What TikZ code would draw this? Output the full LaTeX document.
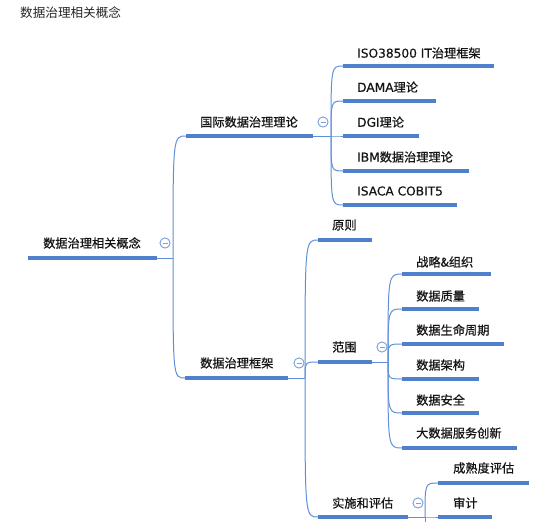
\documentclass[tikz,border=0pt]{standalone}
\usepackage{fontspec}
\setmainfont[FakeBold=0.6]{Noto Sans CJK SC}
\newfontfamily\plaincjk{Noto Sans CJK SC}
\newfontfamily\lat[FakeBold=0.4]{DejaVu Sans}
\definecolor{uline}{RGB}{78,128,206}
\definecolor{cline}{RGB}{96,144,218}
\definecolor{cring}{RGB}{120,160,220}
\definecolor{txt}{RGB}{20,20,20}
\begin{document}
\begin{tikzpicture}[x=1pt,y=-1pt,
  lbl/.style={anchor=west,inner sep=0pt,font=\fontsize{12.2}{14}\selectfont,text=txt},
  uln/.style={draw=uline,line width=3.2pt},
  conn/.style={draw=cline,line width=1pt},
  fold/.style={circle,draw=cring,line width=0.8pt,minimum size=10pt,inner sep=0pt,fill=white,
    path picture={\draw[cring,line width=0.8pt] ([xshift=-2.5pt]path picture bounding box.center) -- ([xshift=2.5pt]path picture bounding box.center);}}]
\useasboundingbox[fill=white] (0,0) rectangle (543,522);

% title
\node[lbl,font=\plaincjk\fontsize{12.6}{14}\selectfont,text=black!85] (title) at (20,13) {数据治理相关概念};

% ---------- root ----------
\node[lbl] (root) at (43,243) {数据治理相关概念};
\coordinate (rootS) at (28,258); \coordinate (rootE) at (157,258);
\coordinate (rootJ) at (173,258);
\node[fold] (rootF) at (165,243) {};

% ---------- level 1 ----------
\node[lbl] (intl) at (200,122) {国际数据治理理论};
\coordinate (intlS) at (186,136); \coordinate (intlE) at (313,136);
\coordinate (intlJ) at (331,136);
\node[fold] (intlF) at (323,122) {};

\node[lbl] (fw) at (200,363) {数据治理框架};
\coordinate (fwS) at (185,378); \coordinate (fwE) at (288,378);
\coordinate (fwJ) at (305,378);
\node[fold] (fwF) at (299,363) {};

% ---------- children of intl ----------
\node[lbl] (iso) at (357,53) {{\lat ISO38500 IT}治理框架};
\coordinate (isoS) at (343,66); \coordinate (isoE) at (494,66);
\node[lbl] (dama) at (357,87) {{\lat DAMA}理论};
\coordinate (damaS) at (343,101); \coordinate (damaE) at (436,101);
\node[lbl] (dgi) at (357,122) {{\lat DGI}理论};
\coordinate (dgiS) at (343,136); \coordinate (dgiE) at (419,136);
\node[lbl] (ibm) at (357,157) {{\lat IBM}数据治理理论};
\coordinate (ibmS) at (343,171); \coordinate (ibmE) at (469,171);
\node[lbl] (isaca) at (357,191) {{\lat ISACA COBIT5}};
\coordinate (isacaS) at (343,205); \coordinate (isacaE) at (457,205);

% ---------- children of fw ----------
\node[lbl] (yz) at (332,225) {原则};
\coordinate (yzS) at (318,240); \coordinate (yzE) at (372,240);
\node[lbl] (fwei) at (332,347) {范围};
\coordinate (fweiS) at (318,362); \coordinate (fweiE) at (372,362);
\coordinate (fweiJ) at (388,362);
\node[fold] (fweiF) at (382,347) {};
\node[lbl] (ss) at (332,503) {实施和评估};
\coordinate (ssS) at (318,517); \coordinate (ssE) at (408,517);
\coordinate (ssJ) at (425,517);
\node[fold] (ssF) at (418,503) {};
\coordinate (ssDown) at (425,522);

% ---------- children of fwei ----------
\node[lbl] (s1) at (416,262) {战略\&组织};
\coordinate (s1S) at (402,274); \coordinate (s1E) at (491,274);
\node[lbl] (s2) at (416,296) {数据质量};
\coordinate (s2S) at (402,309); \coordinate (s2E) at (479,309);
\node[lbl] (s3) at (416,330) {数据生命周期};
\coordinate (s3S) at (402,344); \coordinate (s3E) at (504,344);
\node[lbl] (s4) at (416,365) {数据架构};
\coordinate (s4S) at (402,379); \coordinate (s4E) at (479,379);
\node[lbl] (s5) at (416,400) {数据安全};
\coordinate (s5S) at (402,413); \coordinate (s5E) at (479,413);
\node[lbl] (s6) at (416,433) {大数据服务创新};
\coordinate (s6S) at (402,448); \coordinate (s6E) at (517,448);

% ---------- children of ss ----------
\node[lbl] (t1) at (453,468) {成熟度评估};
\coordinate (t1S) at (438,483); \coordinate (t1E) at (529,483);
\node[lbl] (t2) at (453,503) {审计};
\coordinate (t2S) at (438,517); \coordinate (t2E) at (492,517);

% ---------- connectors ----------
\draw[conn] (rootE) -- (rootJ);
\foreach \c in {intlS,fwS} \draw[conn] (rootJ) .. controls (rootJ |- \c) .. (\c);
\draw[conn] (intlE) -- (intlJ);
\foreach \c in {isoS,damaS,dgiS,ibmS,isacaS} \draw[conn] (intlJ) .. controls (intlJ |- \c) .. (\c);
\draw[conn] (fwE) -- (fwJ);
\foreach \c in {yzS,fweiS,ssS} \draw[conn] (fwJ) .. controls (fwJ |- \c) .. (\c);
\draw[conn] (fweiE) -- (fweiJ);
\foreach \c in {s1S,s2S,s3S,s4S,s5S,s6S} \draw[conn] (fweiJ) .. controls (fweiJ |- \c) .. (\c);
\draw[conn] (ssE) -- (ssJ);
\foreach \c in {t1S,t2S} \draw[conn] (ssJ) .. controls (ssJ |- \c) .. (\c);
\draw[conn] (ssJ) -- (ssDown);

% ---------- underlines ----------
\foreach \u in {root,intl,fw,iso,dama,dgi,ibm,isaca,yz,fwei,ss,s1,s2,s3,s4,s5,s6,t1,t2}
  \draw[uln] (\u S) -- (\u E);

% folds on top
\foreach \f in {rootF,intlF,fwF,fweiF,ssF} \node[fold] at (\f) {};
\end{tikzpicture}
\end{document}
